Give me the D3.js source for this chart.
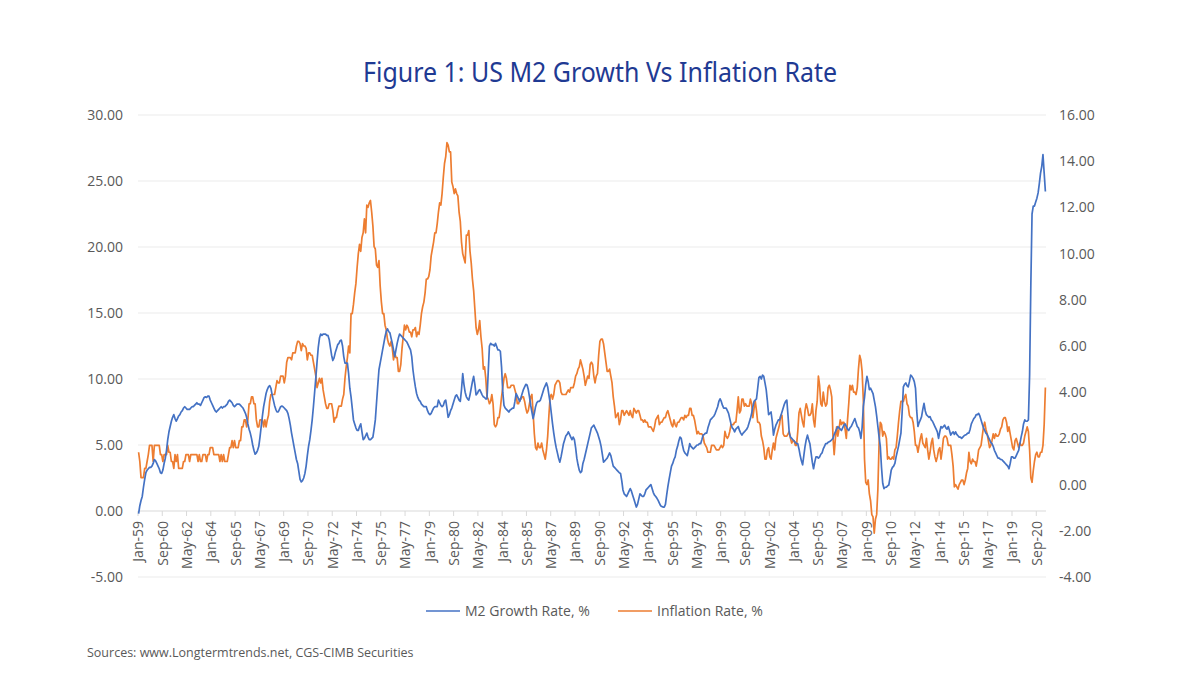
<!DOCTYPE html>
<html><head><meta charset="utf-8">
<script src="https://cdn.jsdelivr.net/npm/d3@7"></script>
<style>body{margin:0;background:#fff;} svg{display:block;}</style>
</head><body>
<svg id="c" width="1200" height="675"></svg>
<script>
// ---------------- DATA ----------------
const startYear = 1959;
const monthNames = ["Jan","Feb","Mar","Apr","May","Jun","Jul","Aug","Sep","Oct","Nov","Dec"];
const tickLabels = ["Jan-59","Sep-60","May-62","Jan-64","Sep-65","May-67","Jan-69","Sep-70","May-72","Jan-74","Sep-75","May-77","Jan-79","Sep-80","May-82","Jan-84","Sep-85","May-87","Jan-89","Sep-90","May-92","Jan-94","Sep-95","May-97","Jan-99","Sep-00","May-02","Jan-04","Sep-05","May-07","Jan-09","Sep-10","May-12","Jan-14","Sep-15","May-17","Jan-19","Sep-20"];
const leftTicks = [-5,0,5,10,15,20,25,30];
const rightTicks = [-4,-2,0,2,4,6,8,10,12,14,16];
const seriesNames = ["M2 Growth Rate, %","Inflation Rate, %"];

// M2 growth rate, % (left axis), monthly Jan-59 .. Apr-21
const m2Growth = [
-0.2,0.4,0.8,1.1,1.8,2.4,2.9,3.1,3.2,3.3,3.3,3.4,
3.6,3.9,3.8,3.6,3.4,3.2,2.9,2.85,3.1,3.6,4.0,4.6,
5.4,6.0,6.4,6.8,7.1,7.3,7.0,6.8,7.0,7.2,7.3,7.5,
7.6,7.8,7.9,7.8,7.7,7.7,7.7,7.8,7.9,7.9,8.0,8.1,
8.2,8.1,8.1,8.0,8.2,8.4,8.6,8.65,8.6,8.7,8.7,8.4,
8.2,8.0,7.8,7.6,7.5,7.6,7.7,7.8,7.9,7.8,7.9,7.9,
8.0,8.1,8.3,8.4,8.3,8.2,8.0,7.9,8.0,8.1,8.1,8.1,
8.0,7.9,7.8,7.6,7.4,7.1,6.6,6.2,5.9,5.5,5.0,4.6,
4.3,4.4,4.6,4.9,5.6,6.4,7.2,7.9,8.4,8.9,9.2,9.4,
9.5,9.3,8.8,8.4,8.0,7.7,7.5,7.5,7.7,7.9,7.95,7.9,
7.8,7.7,7.6,7.4,7.0,6.5,5.9,5.4,4.9,4.4,3.9,3.6,
3.0,2.4,2.2,2.3,2.5,2.85,3.4,4.2,4.9,5.4,6.1,6.9,
7.9,9.0,10.1,11.3,12.4,13.1,13.4,13.3,13.4,13.4,13.4,13.3,
13.3,13.0,12.4,11.8,11.4,11.6,12.0,12.3,12.6,12.7,12.9,12.95,
12.5,11.7,11.2,11.2,11.2,10.4,9.3,8.65,7.8,6.9,6.6,6.3,
6.1,6.1,6.4,6.6,6.0,5.4,5.5,5.7,5.9,5.6,5.4,5.4,
5.5,5.6,6.2,6.9,8.2,9.5,10.7,11.2,11.7,12.2,12.7,13.2,
13.6,13.8,13.6,13.5,13.1,12.7,12.2,11.7,12.2,12.7,13.1,13.4,
13.3,13.2,13.1,13.0,12.9,12.8,12.6,12.4,12.2,11.7,10.7,10.0,
9.4,8.9,8.6,8.4,8.3,8.1,8.0,7.9,7.9,7.9,7.6,7.4,
7.3,7.4,7.6,7.8,7.9,7.9,7.9,8.4,8.2,8.0,7.9,8.0,
8.3,8.4,7.8,7.1,7.3,7.6,7.8,8.1,8.4,8.7,8.8,8.6,
8.4,8.3,9.2,10.4,9.6,9.0,8.65,8.5,8.4,8.8,9.3,9.8,
10.2,9.6,8.8,8.9,9.1,9.2,9.0,8.8,8.65,8.6,8.5,8.5,
10.5,12.5,12.7,12.6,12.6,12.5,12.7,12.45,12.2,12.2,12.1,10.9,
9.0,8.0,7.8,7.7,7.6,7.5,7.65,7.7,7.8,7.8,8.3,8.9,
8.7,8.5,8.3,8.6,8.9,9.2,9.4,9.6,9.55,9.2,8.65,8.0,
7.5,7.0,7.4,7.9,8.2,8.3,8.3,8.4,8.7,9.0,9.3,9.5,
9.7,9.4,8.8,8.2,7.4,6.6,5.9,5.3,4.8,4.4,4.0,3.7,
4.1,4.6,5.1,5.4,5.7,5.8,6.0,5.8,5.6,5.4,5.6,5.4,
4.8,4.0,3.5,3.1,2.9,3.0,3.6,3.9,4.3,4.7,5.1,5.5,
5.9,6.3,6.4,6.5,6.3,6.1,5.9,5.6,5.3,4.9,4.3,3.7,
3.8,3.9,4.0,4.2,4.4,4.2,3.8,3.4,3.3,3.2,3.1,3.0,
2.9,2.85,2.3,1.6,1.3,1.2,1.1,1.3,1.5,1.7,1.5,1.2,
0.9,0.6,0.3,0.5,0.9,1.3,1.2,1.1,1.1,1.3,1.6,1.7,
1.8,1.9,2.0,1.7,1.4,1.2,1.1,0.96,0.8,0.6,0.4,0.35,
0.3,0.3,0.5,1.2,1.85,2.4,2.9,3.4,3.6,3.9,4.1,4.6,
4.9,5.3,5.6,5.5,5.0,4.6,4.4,4.3,4.2,4.6,5.1,4.9,
4.8,4.7,4.8,4.9,5.0,5.0,5.1,5.1,5.4,5.75,5.8,5.9,
5.9,6.3,6.6,6.9,7.0,7.1,7.2,7.4,7.65,7.9,8.3,8.5,
8.3,8.0,7.8,7.8,7.8,7.6,7.4,7.0,6.6,6.3,6.2,6.0,
6.2,6.3,6.4,6.1,5.9,5.75,5.9,6.0,6.1,6.2,6.4,6.7,
7.0,7.4,7.9,8.3,8.4,8.5,9.3,10.1,10.2,10.0,10.3,10.2,
9.7,9.2,8.3,7.3,7.4,7.5,6.8,5.75,6.2,6.5,6.7,6.9,
6.9,7.2,7.5,7.8,8.1,8.3,8.4,7.2,5.9,5.6,5.5,5.4,
5.3,5.2,5.1,5.1,4.7,4.2,3.8,3.5,4.2,4.9,5.4,5.75,
5.4,5.1,4.4,3.7,3.2,3.7,4.1,4.1,4.0,4.1,4.3,4.4,
4.7,4.9,5.1,5.1,5.2,5.25,5.3,5.4,5.5,5.8,6.0,6.2,
6.4,6.3,6.2,6.1,6.3,6.5,6.6,6.4,6.2,6.1,6.3,6.4,
6.6,6.8,7.0,6.7,6.4,6.3,6.0,5.5,6.3,7.9,8.6,9.6,
10.2,9.8,9.2,9.3,9.1,8.9,8.4,7.9,7.2,6.4,5.6,4.9,
3.3,2.1,1.7,1.8,1.8,1.9,1.97,2.5,3.1,3.3,3.4,3.6,
4.1,4.5,4.9,5.4,5.9,7.5,9.4,9.6,9.7,9.5,9.4,9.8,
10.3,10.2,10.05,9.8,9.3,7.6,6.4,6.7,6.9,7.15,7.7,8.15,
7.6,7.3,7.2,7.1,7.15,6.9,6.8,6.6,6.4,6.2,6.0,5.5,
6.0,6.4,6.3,6.4,6.5,6.3,6.2,6.4,6.1,5.75,5.9,6.0,
5.8,6.0,5.8,5.7,5.6,5.6,5.5,5.6,5.7,5.75,5.8,5.9,
5.9,6.2,6.6,6.8,7.0,7.1,7.3,7.3,7.4,7.2,6.9,6.6,
6.3,6.1,5.9,5.8,5.6,5.4,5.2,5.1,4.9,4.6,4.4,4.2,
4.0,4.0,3.9,3.9,3.8,3.7,3.6,3.5,3.4,3.2,3.6,4.1,
4.1,4.0,4.0,4.2,4.4,4.6,5.1,5.6,6.0,6.6,6.9,6.8,
6.8,6.9,10.3,17.1,22.5,23.1,23.1,23.4,23.7,24.1,24.8,25.6,
26.1,27.0,25.6,24.2
];

// Inflation rate, % (right axis), monthly Jan-59 .. Apr-21
const inflation = [
1.4,1.0,0.3,0.3,0.3,0.7,0.7,1.0,1.3,1.7,1.7,1.7,
1.0,1.7,1.7,1.7,1.7,1.7,1.3,1.3,1.0,1.3,1.3,1.3,
1.7,1.4,1.4,1.0,1.0,0.7,1.3,1.0,1.3,0.7,0.7,0.7,
0.7,1.0,1.0,1.3,1.3,1.3,1.0,1.3,1.3,1.3,1.3,1.3,
1.3,1.0,1.3,1.0,1.0,1.3,1.3,1.3,1.0,1.3,1.3,1.6,
1.6,1.6,1.3,1.3,1.3,1.3,1.3,1.0,1.3,1.0,1.3,1.0,
1.0,1.0,1.3,1.6,1.6,1.9,1.6,1.9,1.6,1.6,1.6,1.9,
1.9,2.5,2.5,2.8,2.8,2.5,2.8,3.5,3.5,3.8,3.8,3.5,
3.5,2.8,2.5,2.5,2.8,2.8,2.8,2.5,2.8,2.5,2.8,3.0,
3.6,3.9,3.9,3.9,3.9,4.2,4.5,4.4,4.4,4.7,4.7,4.7,
4.4,4.7,5.3,5.5,5.5,5.5,5.4,5.7,5.7,5.7,6.0,6.2,
6.2,6.1,5.8,6.1,6.0,6.0,5.9,5.4,5.7,5.7,5.6,5.6,
5.3,5.0,4.7,4.2,4.4,4.6,4.4,4.6,4.1,3.8,3.5,3.3,
3.3,3.5,3.5,3.5,3.2,2.7,2.9,2.9,3.2,3.4,3.4,3.4,
3.7,3.9,4.6,5.1,5.5,6.0,5.7,7.4,7.4,7.8,8.3,8.7,
9.4,10.0,10.4,10.1,10.7,10.9,11.5,10.9,12.1,12.0,12.2,12.3,
11.8,11.2,10.3,10.2,9.5,9.4,9.7,8.6,7.9,7.4,7.4,6.9,
6.7,6.3,6.1,6.0,6.2,5.9,5.4,5.7,5.5,5.5,4.9,4.9,
5.2,5.9,6.4,6.9,6.7,6.9,6.8,6.6,6.6,6.4,6.7,6.7,
6.8,6.4,6.6,6.5,6.9,7.4,7.7,7.9,8.3,8.9,8.9,9.0,
9.3,9.9,10.2,10.5,10.9,10.9,11.3,11.8,12.2,12.1,12.6,13.3,
13.9,14.2,14.8,14.7,14.4,14.4,13.1,12.9,12.6,12.8,12.6,12.5,
11.8,11.4,10.5,10.0,9.8,9.6,10.8,10.8,11.0,10.1,9.6,8.9,
8.4,7.6,6.8,6.5,6.7,7.1,6.4,5.9,5.0,5.1,4.6,3.8,
3.7,3.5,3.6,3.9,3.5,2.6,2.5,2.6,2.9,2.9,3.3,3.8,
4.2,4.6,4.8,4.6,4.2,4.2,4.2,4.3,4.3,4.3,4.1,3.9,
3.5,3.5,3.7,3.7,3.8,3.8,3.6,3.3,3.1,3.2,3.5,3.8,
3.9,3.1,2.2,1.6,1.5,1.8,1.6,1.6,1.8,1.5,1.3,1.1,
1.5,2.1,3.0,3.8,3.9,3.7,3.9,4.3,4.4,4.5,4.5,4.4,
4.0,3.9,3.9,3.9,3.9,4.0,4.1,4.0,4.2,4.2,4.2,4.4,
4.7,4.8,5.0,5.1,5.4,5.2,5.0,4.7,4.3,4.5,4.7,4.6,
5.2,5.3,5.2,4.7,4.4,4.7,4.8,5.6,6.2,6.3,6.3,6.1,
5.7,5.3,4.9,4.9,5.0,4.7,4.4,3.8,3.4,2.9,3.0,3.1,
2.6,2.8,3.2,3.2,3.0,3.1,3.2,3.1,3.0,3.2,3.0,2.9,
3.3,3.2,3.1,3.2,3.2,3.0,2.8,2.8,2.7,2.8,2.7,2.7,
2.5,2.5,2.5,2.4,2.3,2.5,2.8,2.9,3.0,2.6,2.7,2.7,
2.8,2.9,2.9,3.1,3.2,3.0,2.8,2.6,2.5,2.8,2.6,2.5,
2.7,2.7,2.8,2.9,2.9,2.8,3.0,2.9,3.0,3.0,3.3,3.3,
3.0,3.0,2.8,2.5,2.2,2.3,2.2,2.2,2.2,2.1,1.8,1.7,
1.6,1.4,1.4,1.4,1.7,1.7,1.7,1.6,1.5,1.5,1.5,1.6,
1.7,1.6,1.7,2.3,2.1,2.0,2.1,2.3,2.6,2.6,2.6,2.7,
2.7,3.2,3.8,3.1,3.2,3.7,3.7,3.4,3.5,3.4,3.4,3.4,
3.7,3.5,2.9,3.3,3.6,3.2,2.7,2.7,2.6,2.1,1.9,1.6,
1.1,1.1,1.5,1.6,1.2,1.1,1.5,1.8,1.5,2.0,2.2,2.4,
2.6,3.0,3.0,2.2,2.1,2.1,2.1,2.2,2.3,2.0,1.8,1.9,
1.9,1.7,1.7,2.3,3.1,3.3,3.0,2.7,2.5,3.2,3.5,3.3,
3.0,3.0,3.1,3.5,2.8,2.5,3.2,3.6,4.7,4.3,3.5,3.4,
4.0,3.6,3.4,3.5,4.2,4.3,4.1,3.8,2.1,1.3,2.0,2.5,
2.1,2.4,2.8,2.6,2.7,2.7,2.4,2.0,2.8,3.5,4.3,4.1,
4.3,4.0,4.0,3.9,4.2,5.0,5.6,5.4,4.9,3.7,1.1,0.1,
0.0,0.2,-0.4,-0.7,-1.3,-1.4,-2.1,-1.5,-1.3,-0.2,1.8,2.7,
2.6,2.1,2.3,2.2,2.0,1.1,1.2,1.1,1.1,1.2,1.1,1.5,
1.6,2.1,2.7,3.2,3.6,3.6,3.6,3.8,3.9,3.5,3.4,3.0,
2.9,2.9,2.7,2.3,1.7,1.7,1.4,1.7,2.0,2.2,1.8,1.7,
1.6,2.0,1.5,1.1,1.4,1.8,2.0,1.5,1.2,1.0,1.2,1.5,
1.6,1.1,1.5,2.0,2.1,2.1,2.0,1.7,1.7,1.7,1.3,0.8,
-0.1,0.0,-0.1,-0.2,0.0,0.1,0.2,0.2,0.0,0.2,0.5,0.7,
1.4,1.0,0.9,1.1,1.0,1.0,0.8,1.1,1.5,1.6,1.7,2.1,
2.5,2.7,2.4,2.2,1.9,1.6,1.7,1.9,2.2,2.0,2.2,2.1,
2.1,2.2,2.4,2.5,2.8,2.9,2.9,2.7,2.3,2.5,2.2,1.9,
1.6,1.5,1.9,2.0,1.8,1.6,1.8,1.7,1.7,1.8,2.1,2.3,
2.5,2.3,1.5,0.3,0.1,0.6,1.0,1.3,1.4,1.2,1.2,1.4,
1.4,1.7,2.6,4.2
];

// Month categories "Mon-YY"
const categories = m2Growth.map((_, i) => {
  const y = startYear + Math.floor(i / 12);
  return monthNames[i % 12] + "-" + String(y % 100).padStart(2, "0");
});

// ---------------- CHART ----------------
const svg = d3.select("#c");
const plot = {left: 138, right: 1046, top: 115, bottom: 577};
const gray = "#595959";
const font = "'Open Sans', sans-serif";
const fmt = d => d.toFixed(2);   // plain hyphen-minus like the original

const x = d3.scaleBand().domain(categories).range([plot.left, plot.right]).padding(0);
const yL = d3.scaleLinear().domain([-5, 30]).range([plot.bottom, plot.top]);
const yR = d3.scaleLinear().domain([-4, 16]).range([plot.bottom, plot.top]);
const cx = c => x(c) + x.bandwidth() / 2;

// Title
svg.append("text")
  .attr("x", 600).attr("y", 82)
  .attr("text-anchor", "middle")
  .attr("font-family", "'Noto Sans', sans-serif")
  .attr("font-size", 28)
  .attr("fill", "#1f3a93")
  .attr("textLength", 474).attr("lengthAdjust", "spacingAndGlyphs")
  .text("Figure 1: US M2 Growth Vs Inflation Rate");

// Gridlines (left axis ticks)
svg.append("g").selectAll("line").data(leftTicks).join("line")
  .attr("x1", plot.left).attr("x2", plot.right)
  .attr("y1", d => yL(d)).attr("y2", d => yL(d))
  .attr("stroke", d => d === 0 ? "#d9d9d9" : "#ebebeb").attr("stroke-width", 1);

// Left axis labels
const gL = svg.append("g").attr("transform", `translate(${plot.left},0)`)
  .call(d3.axisLeft(yL).tickValues(leftTicks).tickFormat(fmt).tickSize(0).tickPadding(15));
gL.select(".domain").remove();
gL.selectAll("text").attr("font-family", font).attr("font-size", 14).attr("fill", gray);

// Right axis labels
const gR = svg.append("g").attr("transform", `translate(${plot.right},0)`)
  .call(d3.axisRight(yR).tickValues(rightTicks).tickFormat(fmt).tickSize(0).tickPadding(13));
gR.select(".domain").remove();
gR.selectAll("text").attr("font-family", font).attr("font-size", 14).attr("fill", gray);

// X axis at left-axis zero
const tickCats = categories.filter(c => tickLabels.includes(c));
const gX = svg.append("g").attr("transform", `translate(0,${yL(0)})`);
gX.selectAll("line").data(tickCats).join("line")
  .attr("x1", d => x(d)).attr("x2", d => x(d))
  .attr("y1", 0).attr("y2", 5)
  .attr("stroke", "#d9d9d9");
gX.selectAll("text").data(tickCats).join("text")
  .attr("transform", d => `translate(${cx(d) + 4.8},10) rotate(-90)`)
  .attr("text-anchor", "end")
  .attr("font-family", font).attr("font-size", 14).attr("fill", gray)
  .text(d => d);

// Lines
const lineL = d3.line().x((d, i) => cx(categories[i])).y(d => yL(d));
const lineR = d3.line().x((d, i) => cx(categories[i])).y(d => yR(d));
svg.append("path").datum(inflation).attr("d", lineR)
  .attr("fill", "none").attr("stroke", "#ed7d31").attr("stroke-width", 1.7).attr("stroke-linejoin", "round");
svg.append("path").datum(m2Growth).attr("d", lineL)
  .attr("fill", "none").attr("stroke", "#4472c4").attr("stroke-width", 1.7).attr("stroke-linejoin", "round");

// Legend
const legendItems = [
  {name: seriesNames[0], color: "#4472c4", x: 426},
  {name: seriesNames[1], color: "#ed7d31", x: 618}
];
const lg = svg.append("g");
legendItems.forEach(it => {
  lg.append("line").attr("x1", it.x).attr("x2", it.x + 34).attr("y1", 611).attr("y2", 611)
    .attr("stroke", it.color).attr("stroke-width", 1.7);
  lg.append("text").attr("x", it.x + 39).attr("y", 611).attr("dy", "0.35em")
    .attr("font-family", font).attr("font-size", 14).attr("fill", gray).text(it.name);
});

// Source
svg.append("text").attr("x", 87).attr("y", 657)
  .attr("font-family", font).attr("font-size", 12.5).attr("fill", gray)
  .text("Sources: www.Longtermtrends.net, CGS-CIMB Securities");
</script>
</body></html>
